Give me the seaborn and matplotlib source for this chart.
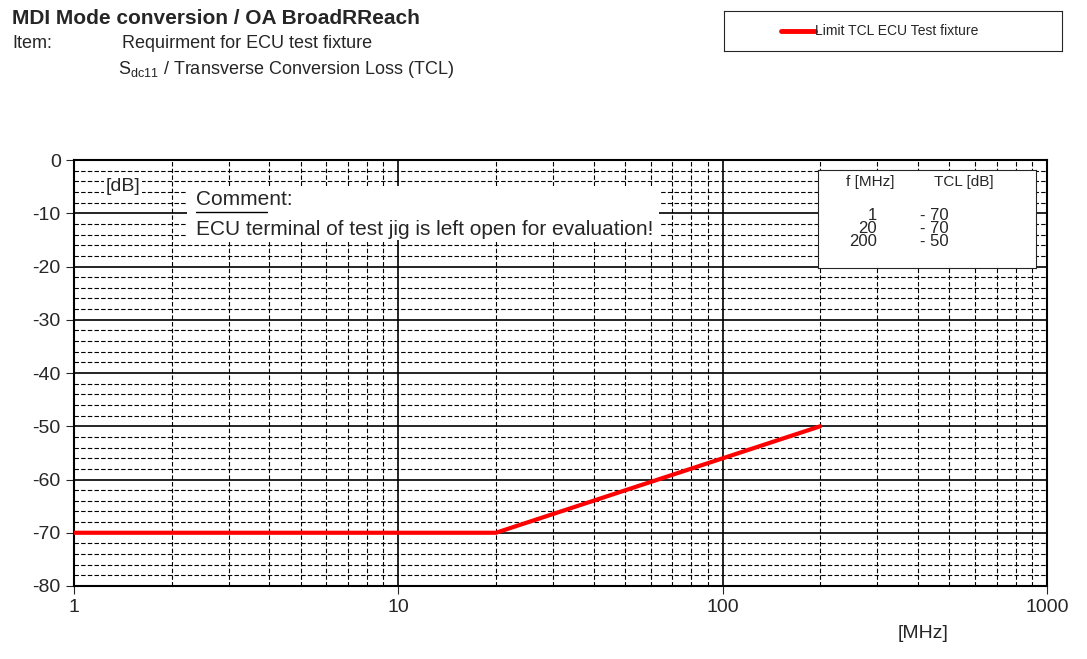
import numpy as np
import pandas as pd
import matplotlib.pyplot as plt
import seaborn as sns
from matplotlib.ticker import MultipleLocator, LogLocator, NullFormatter

# Limit curve
freq_mhz = [1, 20, 200]
tcl_db = [-70, -70, -50]
y_ticks = [0, -10, -20, -30, -40, -50, -60, -70, -80]
x_ticks = [1, 10, 100, 1000]

sns.set_style("white")
plt.rcParams['font.family'] = ['Liberation Sans', 'DejaVu Sans']
plt.rcParams['axes.unicode_minus'] = False

fig = plt.figure(figsize=(10.87, 6.59), dpi=100)
ax = fig.add_axes([74 / 1087, 1 - 586 / 659, (1047 - 74) / 1087, (586 - 160) / 659])

df = pd.DataFrame({'f': freq_mhz, 'tcl': tcl_db})
sns.lineplot(data=df, x='f', y='tcl', color='#ff0000', lw=3, ax=ax, zorder=5)

ax.set_xscale('log')
ax.set_xlim(1, 1000)
ax.set_ylim(-80, 0)
ax.set_xticks(x_ticks)
ax.set_xticklabels([str(t) for t in x_ticks])
ax.xaxis.set_minor_locator(LogLocator(base=10, subs=np.arange(2, 10)))
ax.xaxis.set_minor_formatter(NullFormatter())
ax.set_yticks(y_ticks)
ax.set_yticklabels([str(t) for t in y_ticks])
ax.yaxis.set_minor_locator(MultipleLocator(2))
ax.set_axisbelow(True)
ax.grid(which='major', color='black', lw=1.2, ls='-')
ax.grid(which='minor', color='black', lw=0.8, ls=(0, (4, 2)))
ax.tick_params(axis='both', which='major', labelsize=14, length=6, direction='out', left=True, bottom=True)
ax.set_xlabel('')
ax.set_ylabel('')
for s in ax.spines.values():
    s.set_color('black')
    s.set_linewidth(1.5)

# white boxes over grid for text
ax.text(1.25, -5, '[dB]', fontsize=14, va='center', ha='left',
        bbox=dict(facecolor='white', edgecolor='none', pad=1), zorder=6)
ax.text(2.35, -10, 'Comment:\nECU terminal of test jig is left open for evaluation!',
        fontsize=15, va='center', ha='left', linespacing=1.15, color='white',
        bbox=dict(facecolor='white', edgecolor='none', pad=5), zorder=6)
ax.text(2.38, -7.5, 'Comment:', fontsize=15, va='center', ha='left', zorder=7)
ax.text(2.38, -13, 'ECU terminal of test jig is left open for evaluation!',
        fontsize=15, va='center', ha='left', zorder=7)
ax.plot([2.38, 3.95], [-9.7, -9.7], color='black', lw=1, zorder=7)

tab = fig.add_axes([818 / 1087, 1 - 268 / 659, (1036 - 818) / 1087, (268 - 170) / 659])
tab.set_xticks([]); tab.set_yticks([])
tab.set_facecolor('white')
tab.set_zorder(10)
tab.text(0.24, 0.88, 'f [MHz]', ha='center', va='center', fontsize=11)
tab.text(0.67, 0.88, 'TCL [dB]', ha='center', va='center', fontsize=11)
tab.text(0.27, 0.4, '\n'.join(str(f) for f in freq_mhz), ha='right', va='center',
         fontsize=12, linespacing=0.85)
tab.text(0.47, 0.4, '\n'.join(f'- {abs(v)}' for v in tcl_db), ha='left', va='center',
         fontsize=12, linespacing=0.85)

fig.text(12 / 1087, 1 - 19 / 659, 'MDI Mode conversion / OA BroadRReach', fontsize=15,
         fontweight='bold', va='center')
fig.text(12 / 1087, 1 - 44 / 659, 'Item:', fontsize=13, va='center')
fig.text(122 / 1087, 1 - 44 / 659, 'Requirment for ECU test fixture', fontsize=13, va='center')
fig.text(118 / 1087, 1 - 69 / 659, r'S$_{\mathregular{dc11}}$ / Transverse Conversion Loss (TCL)',
         fontsize=13, va='center')

lax = fig.add_axes([724 / 1087, 1 - 51 / 659, (1062 - 724) / 1087, (51 - 11) / 659])
lax.set_xticks([]); lax.set_yticks([])
lax.set_xlim(0, 1); lax.set_ylim(0, 1)
lax.plot([0.17, 0.27], [0.5, 0.5], color='#ff0000', lw=3.5)
lax.text(0.27, 0.5, 'Limit TCL ECU Test fixture', fontsize=10, va='center')

fig.text(898 / 1087, 1 - 634 / 659, '[MHz]', fontsize=14, va='center')

fig.savefig('out.png', dpi=100)
